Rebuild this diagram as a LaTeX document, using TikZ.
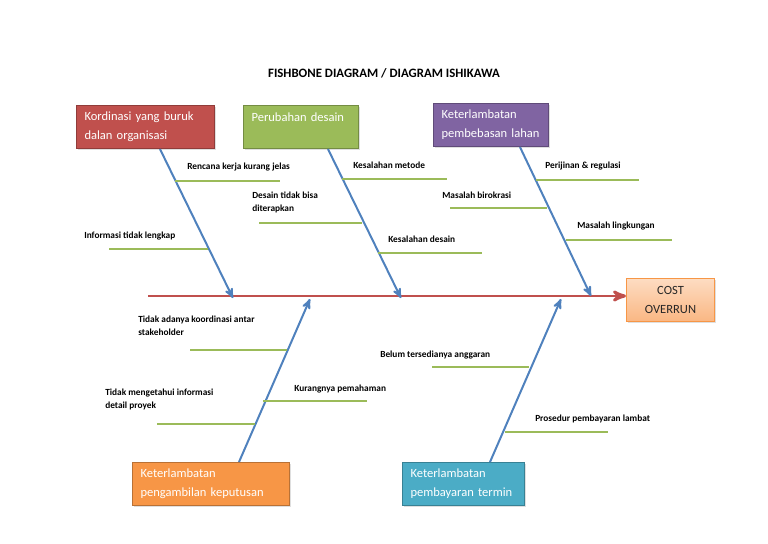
\documentclass[tikz,border=0pt]{standalone}
\usepackage{fontspec}
\setmainfont{Carlito}
\usepackage{tikz}
\usetikzlibrary{shapes,shadows,arrows,positioning}
\definecolor{redbox}{HTML}{C0504D}
\definecolor{greenbox}{HTML}{9BBB59}
\definecolor{purplebox}{HTML}{8064A2}
\definecolor{orangebox}{HTML}{F79646}
\definecolor{tealbox}{HTML}{4BACC6}
\definecolor{boneblue}{HTML}{4F81BD}
\definecolor{spinered}{HTML}{C0504D}
\definecolor{costtop}{HTML}{FDDCC2}
\definecolor{costbottom}{HTML}{FAB783}
\tikzstyle{cause} = [anchor=north west, text=white, align=left, inner xsep=6pt, inner ysep=2pt, minimum height=32.25pt, line width=0.8pt, font=\fontsize{9.4}{14.25}\selectfont, drop shadow={shadow xshift=0.8pt, shadow yshift=-0.8pt, opacity=0.25}]
\tikzstyle{redcause} = [cause, fill=redbox, draw=redbox!75!black, text width=91.5pt]
\tikzstyle{greencause} = [cause, fill=greenbox, draw=greenbox!75!black, text width=74.25pt]
\tikzstyle{purplecause} = [cause, fill=purplebox, draw=purplebox!75!black, text width=74.25pt]
\tikzstyle{orangecause} = [cause, fill=orangebox, draw=orangebox!75!black, text width=105.75pt]
\tikzstyle{tealcause} = [cause, fill=tealbox, draw=tealbox!75!black, text width=79.5pt]
\tikzstyle{effect} = [anchor=north west, draw=orangebox, line width=0.8pt, top color=costtop, bottom color=costbottom, text=black!85, align=center, text width=60pt, inner xsep=3pt, minimum height=32.25pt, font=\fontsize{9.4}{14.25}\selectfont, drop shadow={shadow xshift=0.8pt, shadow yshift=-0.8pt, opacity=0.25}]
\tikzstyle{subcause} = [anchor=west, inner sep=0pt, align=left, font=\fontsize{7}{9.75}\selectfont\bfseries]
\tikzstyle{title} = [font=\fontsize{9.6}{11}\selectfont\bfseries]
\tikzstyle{subline} = [draw, line width=1.1pt, color=greenbox]
\tikzstyle{bone} = [draw, line width=1.5pt, color=boneblue, -stealth']
\tikzstyle{spine} = [draw, line width=2.2pt, color=spinered, -stealth']
\newcommand{\cause}[3]{node (k#1) [#2] {#3}}
\newcommand{\subcause}[2]{node (s#1) [subcause] {#2}}
\newcommand{\subline}[3]{\path (#2) coordinate (a#1); \path (a#1)+(#3,0) coordinate (b#1); \path [subline] (a#1) -- (b#1);}

\begin{document}
\begin{tikzpicture}[x=0.75pt,y=-0.75pt]
\useasboundingbox (0,0) rectangle (768,543);
\path (384,73) node (title) [title] {FISHBONE DIAGRAM / DIAGRAM ISHIKAWA};

\path (76,105) \cause{1}{redcause}{Kordinasi yang buruk\\dalan organisasi};
\path (k1.north west)+(167,0) \cause{2}{greencause}{Perubahan desain\\\mbox{}};
\path (k2.north west)+(190,-2) \cause{3}{purplecause}{Keterlambatan\\pembebasan lahan};
\path (k1.north west)+(56,357) \cause{4}{orangecause}{Keterlambatan\\pengambilan keputusan};
\path (k4.north west)+(270,0) \cause{5}{tealcause}{Keterlambatan\\pembayaran termin};
\path (626,278) node (co) [effect] {COST\\OVERRUN};

\path (148,296) coordinate (sp);
\path [spine] (sp) -- (sp -| co.west);

\path (k1.south west)+(84,0) coordinate (t1);
\path (t1)+(73,149) coordinate (h1);
\path [bone] (t1) -- (h1);
\path (k2.south west)+(85,0) coordinate (t2);
\path (t2)+(73,149) coordinate (h2);
\path [bone] (t2) -- (h2);
\path (k3.south west)+(87,0) coordinate (t3);
\path (t3)+(71,149) coordinate (h3);
\path [bone] (t3) -- (h3);
\path (k4.north west)+(107,0) coordinate (t4);
\path (t4)+(71,-163) coordinate (h4);
\path [bone] (t4) -- (h4);
\path (k5.north west)+(88,0) coordinate (t5);
\path (t5)+(71,-163) coordinate (h5);
\path [bone] (t5) -- (h5);

\subline{1}{175,181}{105}
\path (a1)+(12,-14) \subcause{1}{Rencana kerja kurang jelas};
\subline{2}{109,249}{99}
\path (a2)+(-25,-13) \subcause{2}{Informasi tidak lengkap};
\subline{3}{342,179}{105}
\path (a3)+(11,-14) \subcause{3}{Kesalahan metode};
\subline{4}{259,223}{103}
\path (a4)+(-7,-20.5) \subcause{4}{Desain tidak bisa\\diterapkan};
\subline{5}{378,253}{104}
\path (a5)+(10,-14) \subcause{5}{Kesalahan desain};
\subline{6}{536,180}{103}
\path (a6)+(9,-14) \subcause{6}{Perijinan \& regulasi};
\subline{7}{450,208}{97}
\path (a7)+(-8,-13) \subcause{7}{Masalah birokrasi};
\subline{8}{566,240}{106}
\path (a8)+(11,-14) \subcause{8}{Masalah lingkungan};
\subline{9}{190,350}{97}
\path (a9)+(-52,-24.5) \subcause{9}{Tidak adanya koordinasi antar\\stakeholder};
\subline{10}{263,401}{104}
\path (a10)+(31,-12) \subcause{10}{Kurangnya pemahaman};
\subline{11}{157,424}{98}
\path (a11)+(-52,-24.5) \subcause{11}{Tidak mengetahui informasi\\detail proyek};
\subline{12}{432,367}{97}
\path (a12)+(-52,-12) \subcause{12}{Belum tersedianya anggaran};
\subline{13}{505,432}{103}
\path (a13)+(30,-13) \subcause{13}{Prosedur pembayaran lambat};
\end{tikzpicture}
\end{document}
